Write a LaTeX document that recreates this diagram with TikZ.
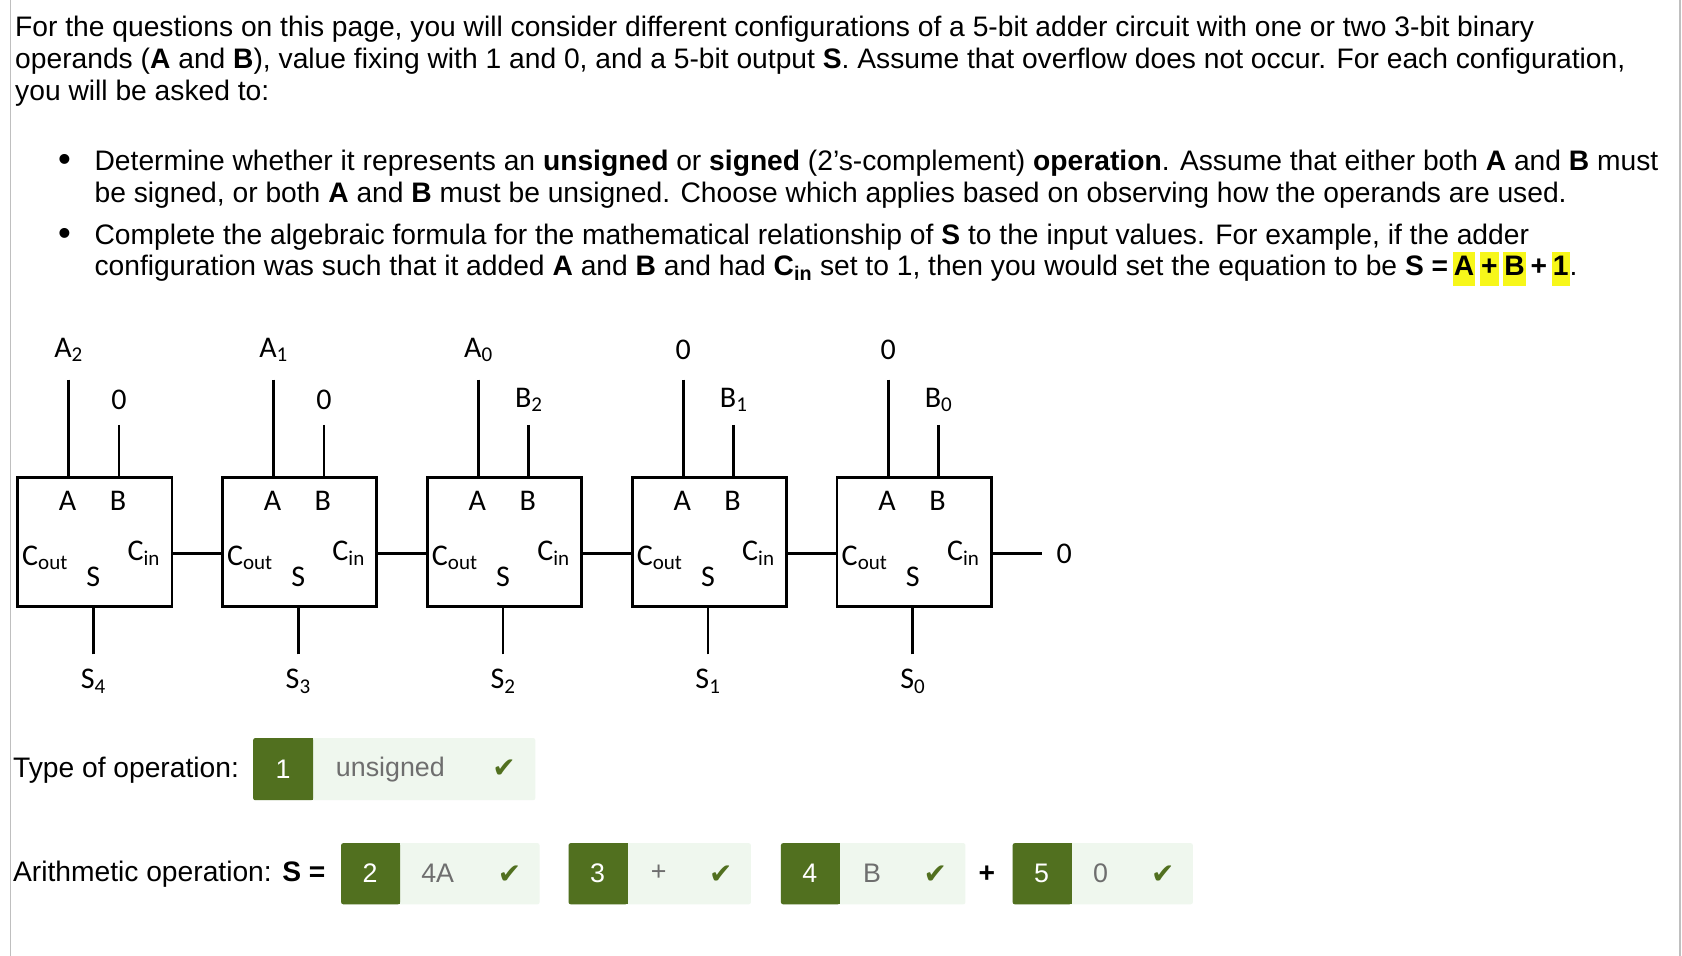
\documentclass[tikz,border=0pt]{standalone}
\usepackage{fontspec}
\setmainfont{Liberation Sans}
\newfontfamily\carfont{Carlito}
\newfontfamily\dvfont{DejaVu Sans}
\definecolor{dg}{HTML}{51701F}
\definecolor{lg}{HTML}{EFF7EE}
\definecolor{hl}{HTML}{F7F71A}
\definecolor{gt}{HTML}{6E6E6E}
\newcommand{\hlt}[1]{{\setlength{\fboxsep}{1pt}\colorbox{hl}{\strut #1}}}
\begin{document}
\begin{tikzpicture}[x=1pt,y=-1pt,
  txt/.style={anchor=west,inner sep=0pt,font=\fontsize{26.3}{30}\selectfont},
  lbl/.style={inner sep=0pt,font=\carfont\fontsize{28}{32}\selectfont},
  fa/.style={draw,line width=2.6pt,minimum width=144pt,minimum height=120pt,inner sep=0pt},
  wire/.style={line width=2.6pt},
  dk/.style={fill=dg,rounded corners=2pt},
  lt/.style={fill=lg,rounded corners=2pt},
  num/.style={text=white,font=\fontsize{25}{28}\selectfont,inner sep=0pt},
  val/.style={text=gt,font=\fontsize{25}{28}\selectfont,inner sep=0pt},
  chk/.style={text=dg,font=\dvfont\fontsize{26}{28}\selectfont,inner sep=0pt}]
\useasboundingbox (0,0) rectangle (1568,891);
\fill[white] (0,0) rectangle (1568,891);
\draw[gray!50,line width=1.2pt] (10,0) -- (10,891);
\draw[gray!50,line width=1.2pt] (1566,0) -- (1566,891);
\node[txt] (l1) at (14,27) {For the questions on this page, you will consider different configurations of a 5-bit adder circuit with one or two 3-bit binary};
\node[txt] (l2) at (14,57) {operands (\textbf{A} and \textbf{B}), value fixing with 1 and 0, and a 5-bit output \textbf{S}. Assume that overflow does not occur. For each configuration,};
\node[txt] (l3) at (14,87) {you will be asked to:};
\node[txt,font=\fontsize{34}{34}\selectfont] (b1) at (54,152) {•};
\node[txt] (p1) at (88,152) {Determine whether it represents an \textbf{unsigned} or \textbf{signed} (2's-complement) \textbf{operation}. Assume that either both \textbf{A} and \textbf{B} must};
\node[txt] (p2) at (88,182) {be signed, or both \textbf{A} and \textbf{B} must be unsigned. Choose which applies based on observing how the operands are used.};
\node[txt,font=\fontsize{34}{34}\selectfont] (b2) at (54,221) {•};
\node[txt] (p3) at (88,221) {Complete the algebraic formula for the mathematical relationship of \textbf{S} to the input values. For example, if the adder};
\node[txt] (p4) at (88,251) {configuration was such that it added \textbf{A} and \textbf{B} and had \textbf{C\textsubscript{in}} set to 1, then you would set the equation to be \textbf{S =\,\hlt{A}\,\hlt{+}\,\hlt{B}\,+\,\hlt{1}}.};
% adders
\foreach \i/\a/\b/\s in {0/A\textsubscript{2}/0/S\textsubscript{4},1/A\textsubscript{1}/0/S\textsubscript{3},2/A\textsubscript{0}/B\textsubscript{2}/S\textsubscript{2},3/0/B\textsubscript{1}/S\textsubscript{1},4/0/B\textsubscript{0}/S\textsubscript{0}}{
  \pgfmathsetmacro\X{15+191*\i}
  \node[fa,anchor=north west] (f\i) at (\X,444) {};
  \node[lbl] (ia\i) at (\X+48,467) {A};
  \node[lbl] (ib\i) at (\X+95,467) {B};
  \node[lbl] (co\i) at (\X+27,520) {C\textsubscript{out}};
  \node[lbl] (is\i) at (\X+72,538) {S};
  \node[lbl] (ci\i) at (\X+119,516) {C\textsubscript{in}};
  \node[lbl] (ta\i) at (\X+49,326) {\a};
  \node[lbl] (tb\i) at (\X+96,373) {\b};
  \node[lbl] (ts\i) at (\X+72,635) {\s};
  \coordinate (pa\i) at (\X+49,354);
  \coordinate (pb\i) at (\X+96,396);
  \coordinate (ps\i) at (\X+72,610);
  \draw[wire] (pa\i) -- (pa\i |- f\i.north);
  \draw[wire] (pb\i) -- (pb\i |- f\i.north);
  \draw[wire] (ps\i) -- (ps\i |- f\i.south);
}
\foreach \i/\j in {0/1,1/2,2/3,3/4}{
  \draw[wire] (f\i.east |- 0,516) -- (f\j.west |- 0,516);
}
\node[lbl] (zero) at (992,516) {0};
\coordinate (zend) at (971,516);
\draw[wire] (f4.east |- 0,516) -- (zend);
% answers
\node[txt] (top) at (12,718) {Type of operation:};
\fill[lt] (236,688) rectangle (499,746);
\fill[dk] (236,688) rectangle (292,746);
\fill[dg] (280,688) rectangle (292,746);
\node[num] (n1) at (264,717) {1};
\node[val,anchor=west] (v1) at (313,717) {unsigned};
\node[chk] (c1) at (470,717) {✔};
\node[txt] (aop) at (12,815) {Arithmetic operation: \textbf{S =}};
\foreach \n/\x/\w/\v/\vx/\cx in {2/318/503/4A/408/475,3/530/700/+/614/672,4/728/900/B/813/872,5/944/1112/0/1026/1084}{
  \fill[lt] (\x,786) rectangle (\w,843);
  \fill[dk] (\x,786) rectangle (\x+55,843);
  \fill[dg] (\x+44,786) rectangle (\x+55,843);
  \node[num] (n\n) at (\x+27,814) {\n};
  \node[val] (v\n) at (\vx,814) {\v};
  \node[chk] (c\n) at (\cx,815) {✔};
}
\node[txt] (plus) at (912,815) {\textbf{+}};
\end{tikzpicture}
\end{document}
